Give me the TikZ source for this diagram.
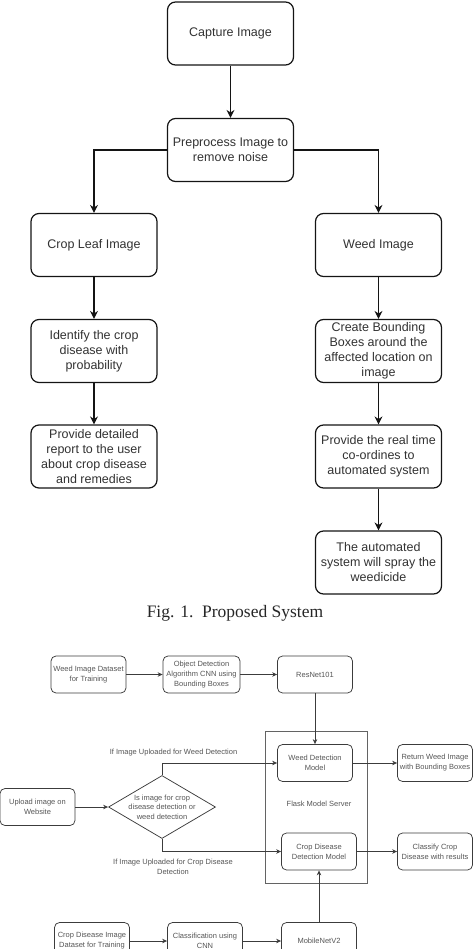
\documentclass[tikz,border=0pt]{standalone}
\usepackage{fontspec}
\setmainfont{Liberation Serif}
\setsansfont{Liberation Sans}
\usetikzlibrary{arrows.meta,shapes.geometric}

\begin{document}
\begin{tikzpicture}[x=1pt, y=-1pt, every node/.style={font=\sffamily}]
    \definecolor{boxline}{RGB}{20,20,20}
    \definecolor{boxtext}{RGB}{50,50,50}
    \definecolor{lowline}{RGB}{60,60,60}
    \definecolor{lowtext}{RGB}{85,85,85}

    \tikzset{
        hautbox/.style={draw=boxline, line width=1.2pt, rounded corners=8pt,
            minimum width=126pt, minimum height=63pt, align=center, inner sep=1pt,
            text=boxtext, font=\sffamily\fontsize{12.5}{15}\selectfont},
        basbox/.style={draw=lowline, line width=0.75pt, rounded corners=5pt,
            minimum width=75pt, minimum height=37pt, align=center, inner sep=1pt,
            text=lowtext, font=\sffamily\fontsize{7.5}{10}\selectfont},
        bastext/.style={align=center, inner sep=0pt, text=lowtext,
            font=\sffamily\fontsize{7.5}{10}\selectfont},
        hautarrow/.style={-{Stealth[length=8pt,width=8pt]}, line width=1.1pt, draw=boxline},
        basarrow/.style={-{Stealth[length=5pt,width=4.5pt]}, line width=0.75pt, draw=lowline},
    }

    \useasboundingbox (0,0) rectangle (474,949);
    \clip (0,0) rectangle (474,949);

    % Fig. 1 : système proposé.
    \node[hautbox] (capture) at (230.5,33.5) {Capture Image};
    \node[hautbox] (preproc) at (230.5,150) {Preprocess Image to\\remove noise};
    \node[hautbox] (leaf) at (94,245) {Crop Leaf Image};
    \node[hautbox] (weed) at (378.5,245) {Weed Image};
    \node[hautbox] (identify) at (94,351) {Identify the crop\\disease with\\probability};
    \node[hautbox] (bbox) at (378.5,351) {Create Bounding\\Boxes around the\\affected location on\\image};
    \node[hautbox] (report) at (94,456.5) {Provide detailed\\report to the user\\about crop disease\\and remedies};
    \node[hautbox] (coords) at (378.5,456.5) {Provide the real time\\co-ordines to\\automated system};
    \node[hautbox] (spray) at (378.5,562.5) {The automated\\system will spray the\\weedicide};

    \draw[hautarrow, line width=1.7pt] (capture) -- (preproc);
    \draw[hautarrow] (preproc.west) -| (leaf.north);
    \draw[hautarrow] (preproc.east) -| (weed.north);
    \draw[hautarrow] (leaf) -- (identify);
    \draw[hautarrow] (identify) -- (report);
    \draw[hautarrow] (weed) -- (bbox);
    \draw[hautarrow] (bbox) -- (coords);
    \draw[hautarrow] (coords) -- (spray);

    \node[font=\rmfamily\fontsize{17.5}{20}\selectfont, text=black!85] (caption) at (235,613) {Fig. 1.\ \ Proposed System};

    % Serveur de modèles et chaîne de détection.
    \node[draw=lowline!80, line width=0.6pt, minimum width=102pt, minimum height=152pt, inner sep=0pt] (server) at (316,807) {};
    \node[bastext] (serverlabel) at (319,804) {Flask Model Server};

    \node[basbox] (weedset) at (88.5,674.5) {Weed Image Dataset\\for Training};
    \node[basbox, minimum width=77pt] (objdet) at (201.5,674.5) {Object Detection\\Algorithm CNN using\\Bounding Boxes};
    \node[basbox] (resnet) at (315,674.5) {ResNet101};
    \node[basbox] (weedmodel) at (315,763) {Weed Detection\\Model};
    \node[basbox] (retweed) at (435,763) {Return Weed Image\\with Bounding Boxes};
    \node[basbox] (upload) at (37.5,807) {Upload image on\\Website};
    \node[draw=lowline, line width=0.75pt, shape=diamond, minimum width=107pt, minimum height=63pt, inner sep=0pt] (choice) at (162,807) {};
    \node[bastext, font=\sffamily\fontsize{7.5}{9.5}\selectfont] (choicelabel) at (choice) {Is image for crop\\disease detection or\\weed detection};
    \node[basbox] (cropmodel) at (319,851.5) {Crop Disease\\Detection Model};
    \node[basbox] (classify) at (435,851.5) {Classify Crop\\Disease with results};
    \node[basbox] (cropset) at (92,941) {Crop Disease Image\\Dataset for Training};
    \node[basbox] (cnn) at (205,941) {Classification using\\CNN};
    \node[basbox] (mobile) at (319,941) {MobileNetV2};

    \node[bastext] (weedif) at (173.5,753) {If Image Uploaded for Weed Detection};
    \node[bastext] (cropif) at (173,867) {If Image Uploaded for Crop Disease\\Detection};

    \draw[basarrow] (weedset) -- (objdet);
    \draw[basarrow] (objdet) -- (resnet);
    \draw[basarrow] (resnet) -- (weedmodel);
    \draw[basarrow] (weedmodel) -- (retweed);
    \draw[basarrow] (upload) -- (choice.west);
    \draw[basarrow] (choice.north) |- (weedmodel.west);
    \draw[basarrow] (choice.south) |- (cropmodel.west);
    \draw[basarrow] (cropmodel) -- (classify);
    \draw[basarrow] (cropset) -- (cnn);
    \draw[basarrow] (cnn) -- (mobile);
    \draw[basarrow] (mobile) -- (cropmodel);
\end{tikzpicture}
\end{document}
